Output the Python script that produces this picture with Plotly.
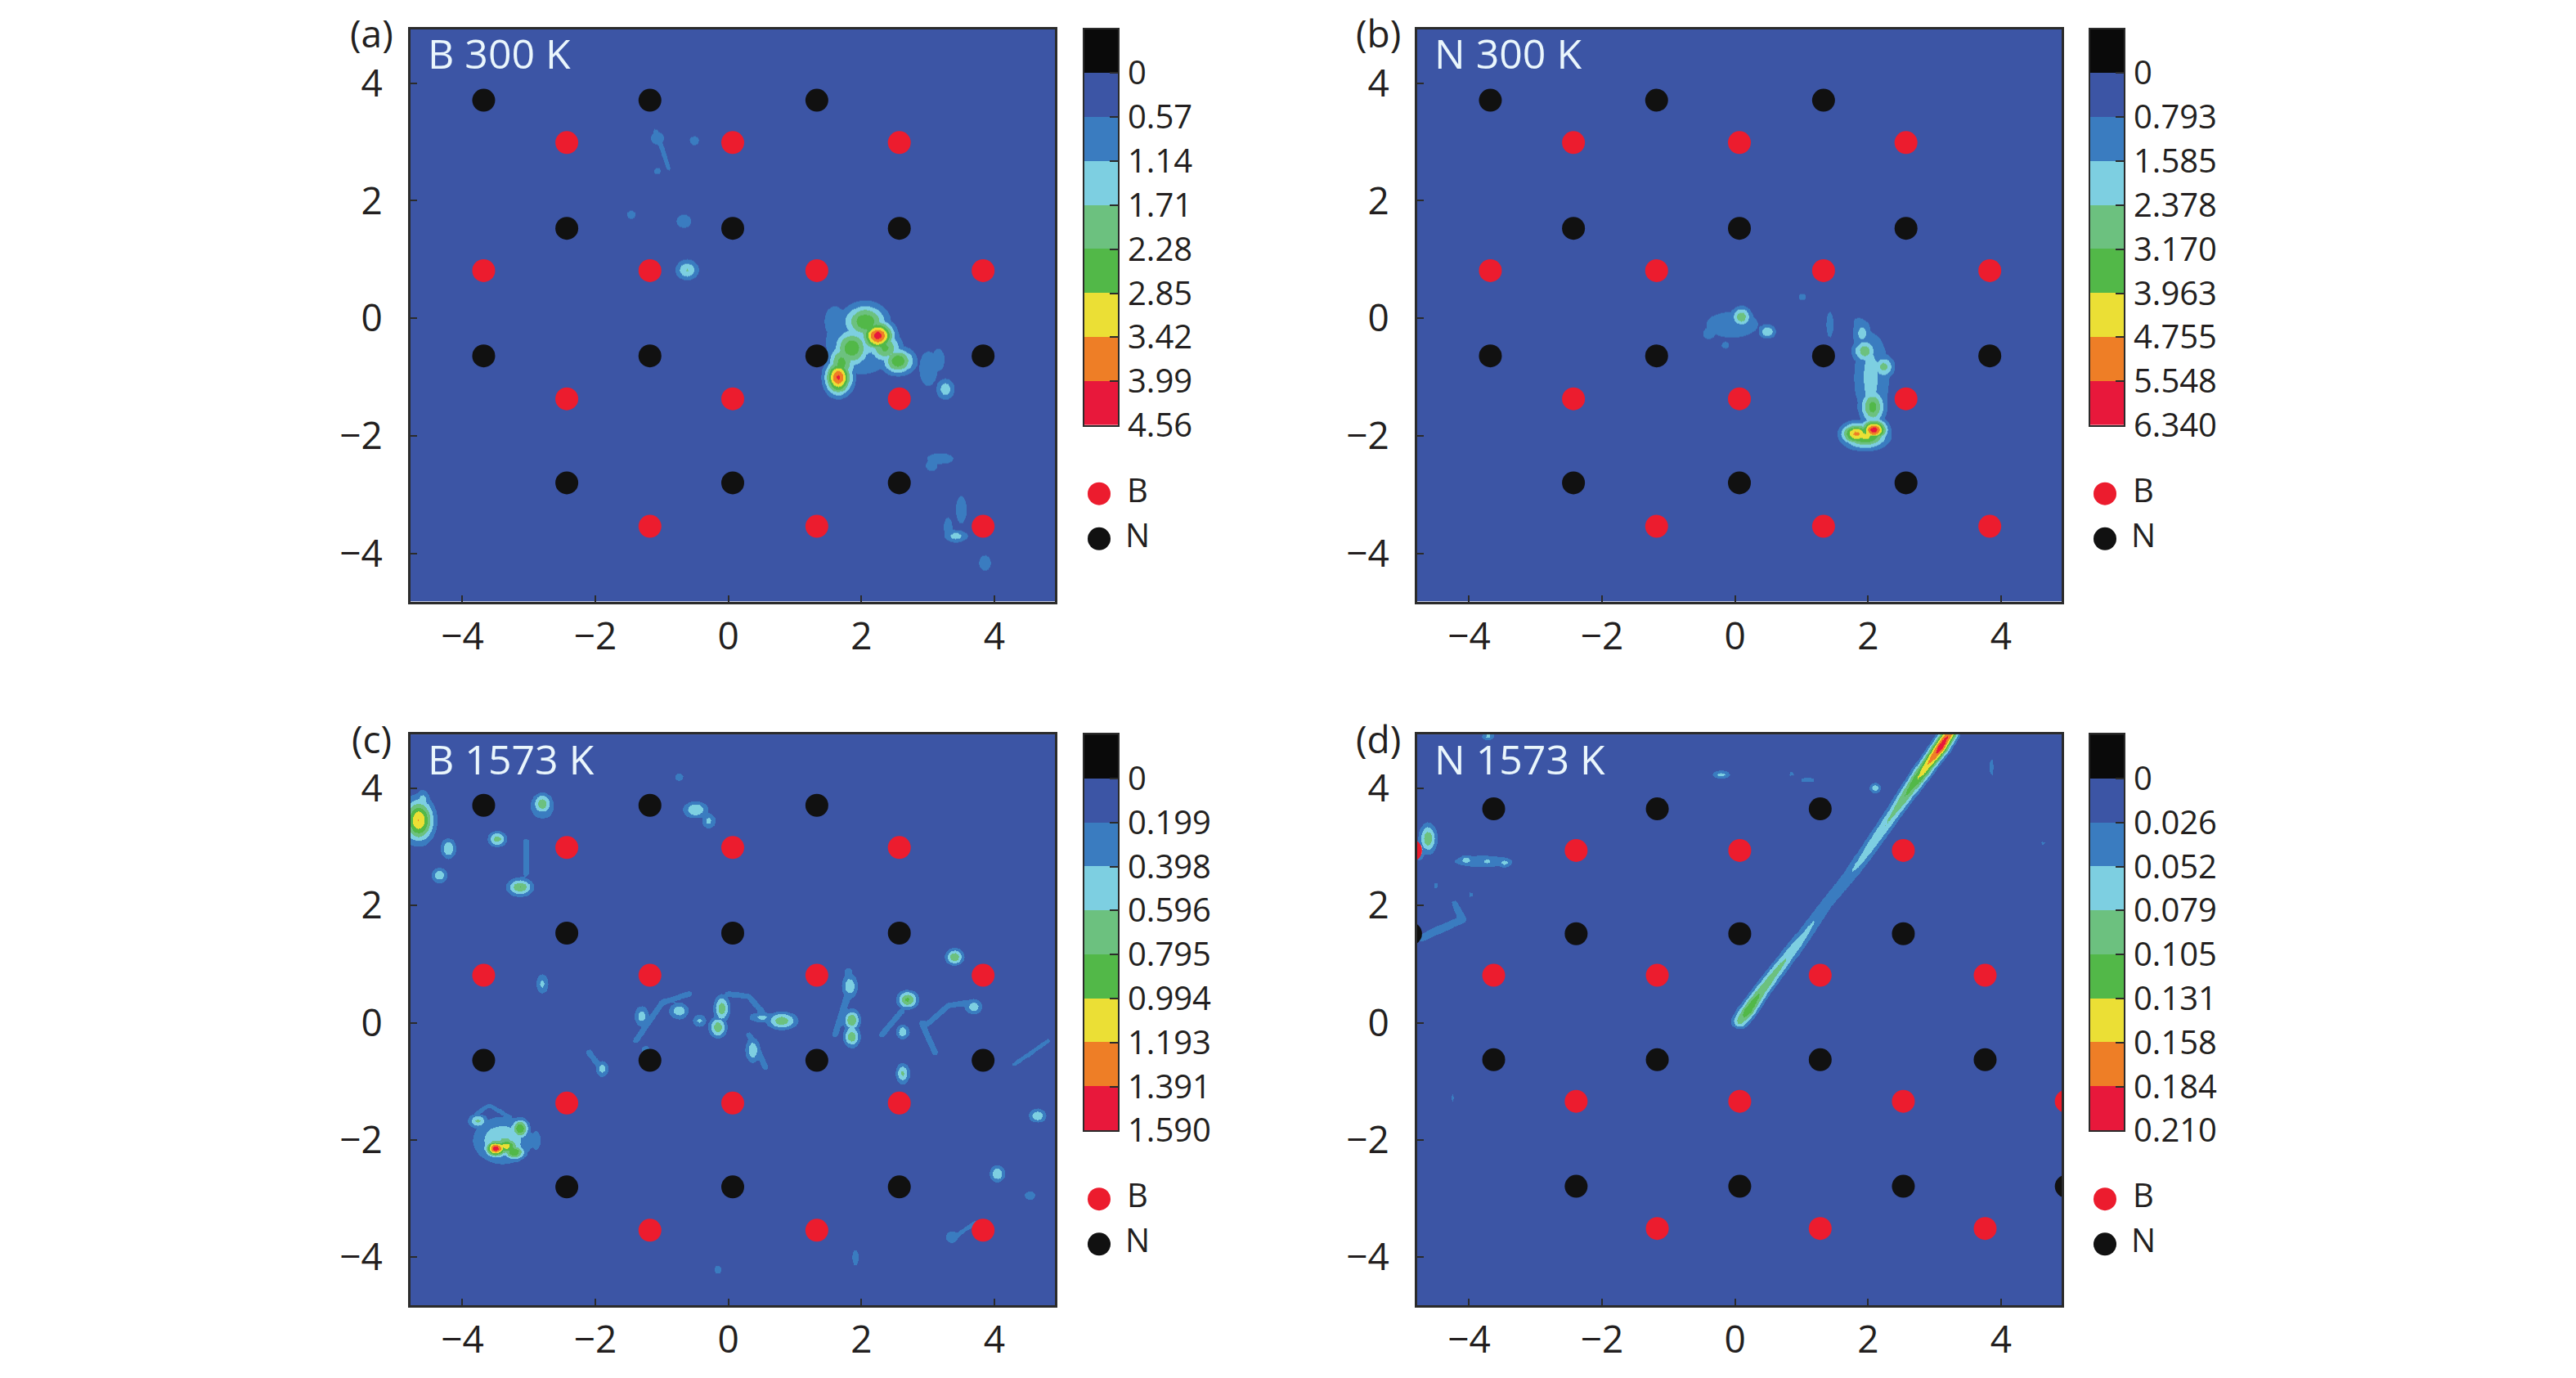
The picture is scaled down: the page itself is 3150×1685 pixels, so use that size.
import numpy as np
import plotly.graph_objects as go

W, H = 3150, 1685
FONT = "Open Sans"
TXT = "#231f20"

# ---------------- data ----------------
panel_tags = ["(a)", "(b)", "(c)", "(d)"]
panel_titles = ["B 300 K", "N 300 K", "B 1573 K", "N 1573 K"]

levels_a = ["0", "0.57", "1.14", "1.71", "2.28", "2.85", "3.42", "3.99", "4.56"]
levels_b = ["0", "0.793", "1.585", "2.378", "3.170", "3.963", "4.755", "5.548", "6.340"]
levels_c = ["0", "0.199", "0.398", "0.596", "0.795", "0.994", "1.193", "1.391", "1.590"]
levels_d = ["0", "0.026", "0.052", "0.079", "0.105", "0.131", "0.158", "0.184", "0.210"]

axis_ticks = [-4, -2, 0, 2, 4]
x_range = [-4.78, 4.91]
y_range = [-4.82, 4.92]

# atom sites, panels (a)-(c)
N_x_abc = [-3.68, -1.18, 1.33, -2.43, 0.065, 2.57, -3.68, -1.18, 1.33, 3.83, -2.43, 0.065, 2.57]
N_y_abc = [3.71, 3.71, 3.71, 1.53, 1.53, 1.53, -0.64, -0.64, -0.64, -0.64, -2.80, -2.80, -2.80]
B_x_abc = [-2.43, 0.065, 2.57, -3.68, -1.18, 1.33, 3.83, -2.43, 0.065, 2.57, -1.18, 1.33, 3.83]
B_y_abc = [2.99, 2.99, 2.99, 0.81, 0.81, 0.81, 0.81, -1.37, -1.37, -1.37, -3.54, -3.54, -3.54]
# atom sites, panel (d)
N_x_d = [-3.63, -1.17, 1.28, -4.88, -2.39, 0.07, 2.53, -3.63, -1.17, 1.28, 3.76, -2.39, 0.07, 2.53, 4.98]
N_y_d = [3.65, 3.65, 3.65, 1.52, 1.52, 1.52, 1.52, -0.63, -0.63, -0.63, -0.63, -2.79, -2.79, -2.79, -2.79]
B_x_d = [-4.88, -2.39, 0.07, 2.53, -3.63, -1.17, 1.28, 3.76, -2.39, 0.07, 2.53, 4.98, -1.17, 1.28, 3.76]
B_y_d = [2.94, 2.94, 2.94, 2.94, 0.81, 0.81, 0.81, 0.81, -1.34, -1.34, -1.34, -1.34, -3.51, -3.51, -3.51]

# density hot spots: (x, y, peak value, sigma_x, sigma_y)
spots_a = [
    (2.24, -0.29, 4.3, 0.16, 0.16), (1.65, -1.00, 4.1, 0.13, 0.19),
    (2.05, -0.05, 2.75, 0.22, 0.20), (1.85, -0.50, 2.7, 0.18, 0.22),
    (2.55, -0.72, 2.75, 0.16, 0.15), (2.35, -0.50, 2.4, 0.17, 0.17),
    (1.70, -0.75, 2.5, 0.14, 0.22), (2.00, -0.40, 1.3, 0.42, 0.42),
    (1.60, -0.05, 1.0, 0.15, 0.25),
    (3.00, -0.85, 1.0, 0.13, 0.28), (3.26, -1.20, 1.5, 0.10, 0.13),
    (3.15, -0.70, 0.9, 0.10, 0.20), (-0.63, 0.83, 1.75, 0.12, 0.12),
    (-1.07, 3.07, 0.95, 0.10, 0.10), (-0.52, 3.03, 0.85, 0.08, 0.08),
    (-1.07, 2.51, 0.75, 0.07, 0.07), (-1.47, 1.77, 0.85, 0.07, 0.08),
    (-0.68, 1.66, 0.95, 0.11, 0.11), (3.18, -2.38, 0.95, 0.20, 0.09),
    (3.05, -2.50, 0.85, 0.10, 0.10), (3.50, -3.25, 0.85, 0.09, 0.26),
    (3.42, -3.70, 1.4, 0.13, 0.08), (3.85, -4.16, 0.95, 0.09, 0.13),
    (3.30, -3.55, 0.8, 0.08, 0.20),
]
spots_b = [
    (2.08, -1.89, 6.1, 0.13, 0.11), (1.82, -1.96, 5.0, 0.15, 0.12),
    (1.95, -2.00, 4.2, 0.22, 0.14), (2.06, -1.50, 3.5, 0.13, 0.20),
    (1.94, -0.55, 2.9, 0.12, 0.14), (2.23, -0.82, 2.7, 0.11, 0.13),
    (2.03, -1.00, 2.1, 0.14, 0.55), (1.90, -0.25, 1.9, 0.10, 0.18),
    (2.05, -1.00, 1.3, 0.26, 0.75), (0.09, 0.03, 2.9, 0.10, 0.12),
    (0.48, -0.22, 2.4, 0.09, 0.08), (-0.05, -0.10, 1.15, 0.45, 0.25),
    (-0.40, -0.25, 1.0, 0.13, 0.15), (-0.15, -0.45, 0.95, 0.10, 0.10),
    (1.00, 0.37, 1.0, 0.08, 0.09), (1.42, -0.10, 1.0, 0.08, 0.32),
]
spots_c = [
    (-4.66, 3.46, 1.2, 0.15, 0.24), (-4.60, 3.80, 0.5, 0.08, 0.13),
    (-2.80, 3.74, 0.75, 0.10, 0.12), (-2.80, 3.70, 0.4, 0.15, 0.18),
    (-3.48, 3.14, 0.7, 0.09, 0.09), (-4.22, 2.98, 0.6, 0.08, 0.12),
    (-4.35, 2.52, 0.55, 0.08, 0.09), (-3.14, 2.32, 0.8, 0.13, 0.10),
    (-0.50, 3.64, 0.6, 0.13, 0.10), (-0.30, 3.45, 0.45, 0.08, 0.10),
    (-0.75, 4.20, 0.3, 0.07, 0.07), (-2.80, 0.67, 0.45, 0.07, 0.13),
    (-1.31, 0.12, 0.5, 0.08, 0.13), (-0.75, 0.21, 0.55, 0.10, 0.10),
    (-0.10, 0.25, 0.75, 0.08, 0.15), (-0.16, -0.07, 0.75, 0.09, 0.12),
    (-0.44, 0.04, 0.45, 0.08, 0.08), (0.80, 0.04, 0.75, 0.15, 0.10),
    (0.50, 0.10, 0.45, 0.15, 0.07), (0.36, -0.46, 0.55, 0.08, 0.15),
    (1.82, 0.63, 0.55, 0.08, 0.15), (1.85, 0.05, 0.8, 0.08, 0.12),
    (1.85, -0.23, 0.75, 0.08, 0.12), (2.69, 0.40, 0.85, 0.10, 0.10),
    (2.62, -0.15, 0.55, 0.07, 0.09), (2.62, -0.86, 0.65, 0.07, 0.12),
    (3.68, 0.28, 0.55, 0.09, 0.09), (3.40, 1.13, 0.8, 0.09, 0.09),
    (-1.90, -0.78, 0.5, 0.07, 0.10), (-1.25, -0.45, 0.3, 0.07, 0.07),
    (4.64, -1.58, 0.6, 0.09, 0.08), (-3.50, -2.14, 1.55, 0.10, 0.09),
    (-3.35, -2.10, 1.1, 0.13, 0.10), (-3.23, -2.20, 1.0, 0.11, 0.09),
    (-3.14, -1.80, 1.0, 0.09, 0.11), (-3.40, -2.00, 0.6, 0.30, 0.27),
    (-3.77, -1.67, 0.65, 0.10, 0.08), (-2.90, -2.00, 0.35, 0.07, 0.15),
    (4.04, -2.57, 0.6, 0.08, 0.10), (4.53, -2.94, 0.35, 0.07, 0.07),
    (3.36, -3.65, 0.4, 0.08, 0.08), (-0.16, -4.20, 0.3, 0.06, 0.08),
    (1.90, -4.00, 0.28, 0.06, 0.16),
]
spots_d = [
    (-4.62, 3.15, 0.10, 0.09, 0.17), (-4.75, 2.95, 0.07, 0.06, 0.12),
    (-4.05, 2.78, 0.07, 0.08, 0.06), (-3.73, 2.76, 0.065, 0.08, 0.06),
    (-3.47, 2.74, 0.065, 0.07, 0.06), (-3.80, 2.76, 0.045, 0.42, 0.09),
    (-0.21, 4.24, 0.065, 0.10, 0.05), (2.10, 4.01, 0.075, 0.06, 0.06),
    (1.08, 4.15, 0.035, 0.14, 0.05), (0.85, 4.25, 0.03, 0.07, 0.07),
    (-3.72, 4.90, 0.06, 0.07, 0.06), (3.85, 4.37, 0.03, 0.06, 0.28),
    (4.62, 3.07, 0.03, 0.06, 0.06), (-4.26, -1.28, 0.03, 0.05, 0.12),
    (-4.50, 2.35, 0.03, 0.06, 0.10), (-3.98, 2.19, 0.03, 0.05, 0.10),
]
# streak-like features: vertices (x, y, value)
streaks_a = [
    ([-1.10, -1.00, -0.90], [3.20, 2.90, 2.55], [0.7, 0.75, 0.7]),
]
streaks_b = [
    ([1.85, 1.95, 2.05, 2.10], [-0.05, -0.60, -1.20, -1.70], [1.2, 1.3, 1.3, 1.4]),
]
streaks_c = [
    ([-1.40, -1.00, -0.60], [-0.30, 0.35, 0.50], [0.3, 0.3, 0.3]),
    ([0.00, 0.30, 0.50], [0.50, 0.45, 0.20], [0.3, 0.3, 0.3]),
    ([1.60, 1.80, 1.80], [-0.20, 0.50, 0.90], [0.3, 0.35, 0.3]),
    ([2.30, 2.60], [-0.20, 0.20], [0.3, 0.3]),
    ([3.00, 3.30, 3.60], [0.00, 0.30, 0.35], [0.3, 0.3, 0.3]),
    ([3.10, 2.90], [-0.50, 0.00], [0.3, 0.3]),
    ([4.30, 4.80], [-0.70, -0.30], [0.25, 0.25]),
    ([-2.10, -1.90], [-0.50, -0.80], [0.3, 0.3]),
    ([3.35, 3.70], [-3.70, -3.40], [0.25, 0.25]),
    ([-3.05, -3.05], [2.55, 3.10], [0.3, 0.3]),
    ([0.30, 0.45, 0.55], [-0.20, -0.50, -0.75], [0.3, 0.3, 0.3]),
    ([-3.80, -3.60, -3.30], [-1.55, -1.40, -1.60], [0.25, 0.25, 0.25]),
]
streak_d_x = [0.07, 0.18, 0.41, 0.69, 1.03, 1.37, 1.71, 2.05, 2.39, 2.67, 2.90, 3.09, 3.22]
streak_d_y = [0.03, 0.21, 0.58, 0.99, 1.50, 2.04, 2.50, 3.05, 3.60, 4.06, 4.43, 4.72, 4.95]
streak_d_v = [0.09, 0.13, 0.10, 0.085, 0.06, 0.045, 0.05, 0.07, 0.085, 0.12, 0.16, 0.205, 0.18]
streaks_d = [
    (streak_d_x, streak_d_y, streak_d_v),
    ([-4.73, -4.11, -4.23], [1.45, 1.77, 2.05], [0.035, 0.035, 0.03]),
]
streak_widths = [0.05, 0.07, 0.05, 0.085]

# ---------------- colours ----------------
band_colors = ["#3c55a5", "#3a7cc0", "#7dcfe1", "#6cc17f", "#52b848",
               "#ebdf35", "#ee7e26", "#e8183b"]
cbar_colors = ["#0a0a0a"] + band_colors
B_color = "#ec1c2e"
N_color = "#111111"

# ---------------- geometry (pixels) ----------------
main_box = [(494, 28, 1282, 739), (1725, 28, 2513, 739),
            (494, 904, 1282, 1613), (1725, 904, 2513, 1613)]
cbar_box = [(1318, 28, 1359, 520), (2548, 28, 2589, 520),
            (1318, 904, 1359, 1396), (2548, 904, 2589, 1396)]
leg_box = [(1300, 577, 1500, 689), (2530, 577, 2730, 689),
           (1300, 1453, 1500, 1565), (2530, 1453, 2730, 1565)]


def dx(b):
    return [b[0] / W, b[2] / W]


def dy(b):
    return [1 - b[3] / H, 1 - b[1] / H]


gx = np.linspace(x_range[0], x_range[1], 260)
gy = np.linspace(y_range[0], y_range[1], 260)
GX, GY = np.meshgrid(gx, gy)


def field(spots, streaks, width):
    Z = np.zeros_like(GX)
    for (x0, y0, a, sx, sy) in spots:
        Z = np.maximum(Z, a * np.exp(-((GX - x0) ** 2 / (2 * sx ** 2) + (GY - y0) ** 2 / (2 * sy ** 2))))
    for (xs, ys, vs) in streaks:
        for i in range(len(xs) - 1):
            x0, y0, x1, y1 = xs[i], ys[i], xs[i + 1], ys[i + 1]
            vx, vy = x1 - x0, y1 - y0
            L2 = vx * vx + vy * vy
            t = np.clip(((GX - x0) * vx + (GY - y0) * vy) / L2, 0, 1)
            d2 = (GX - (x0 + t * vx)) ** 2 + (GY - (y0 + t * vy)) ** 2
            amp = vs[i] + t * (vs[i + 1] - vs[i])
            Z = np.maximum(Z, amp * np.exp(-d2 / (2 * width ** 2)))
    return Z


fields = [
    field(spots_a, streaks_a, streak_widths[0]),
    field(spots_b, streaks_b, streak_widths[1]),
    field(spots_c, streaks_c, streak_widths[2]),
    field(spots_d, streaks_d, streak_widths[3]),
]
all_levels = [levels_a, levels_b, levels_c, levels_d]
atoms = [(B_x_abc, B_y_abc, N_x_abc, N_y_abc)] * 3 + [(B_x_d, B_y_d, N_x_d, N_y_d)]


def discrete_scale(cols):
    n = len(cols)
    s = []
    for i, c in enumerate(cols):
        s.append([i / n, c])
        s.append([(i + 1) / n, c])
    return s


legend_labels = ["B", "N"]
legend_colors = [B_color, N_color]

fig = go.Figure()
layout = dict(width=W, height=H, margin=dict(l=0, r=0, t=0, b=0),
              paper_bgcolor="white", plot_bgcolor="white", showlegend=False,
              font=dict(family=FONT, size=46, color=TXT))
annotations = []

for i in range(4):
    k = i + 1
    xa, ya = f"x{k}", f"y{k}"
    xc, yc = f"x{k+4}", f"y{k+4}"
    xl, yl = f"x{k+8}", f"y{k+8}"
    lv = all_levels[i]
    zmax = float(lv[-1])

    fig.add_trace(go.Heatmap(x=gx, y=gy, z=fields[i], zmin=0, zmax=zmax,
                             colorscale=discrete_scale(band_colors), zsmooth="best",
                             showscale=False, xaxis=xa, yaxis=ya, hoverinfo="skip"))
    bx, by, nx, ny = atoms[i]
    fig.add_trace(go.Scatter(x=bx, y=by, mode="markers", xaxis=xa, yaxis=ya,
                             marker=dict(size=28, color=B_color), hoverinfo="skip"))
    fig.add_trace(go.Scatter(x=nx, y=ny, mode="markers", xaxis=xa, yaxis=ya,
                             marker=dict(size=28, color=N_color), hoverinfo="skip"))

    # colour bar drawn as a small heat map
    nb = len(lv)
    band_idx = list(range(nb))
    fig.add_trace(go.Heatmap(x=[0.5], y=[nb - j - 0.5 for j in band_idx],
                             z=[[j] for j in band_idx], zmin=-0.5, zmax=nb - 0.5,
                             colorscale=discrete_scale(cbar_colors), showscale=False,
                             xaxis=xc, yaxis=yc, hoverinfo="skip"))
    # legend
    fig.add_trace(go.Scatter(x=[0.18, 0.18], y=[1, 0], mode="markers", xaxis=xl, yaxis=yl,
                             marker=dict(size=28, color=legend_colors), hoverinfo="skip"))
    fig.add_trace(go.Scatter(x=[0.415, 0.415], y=[1, 0], mode="text", text=legend_labels,
                             textposition="middle center", xaxis=xl, yaxis=yl,
                             textfont=dict(family=FONT, size=40, color=TXT), hoverinfo="skip"))

    sfx = "" if k == 1 else str(k)
    common = dict(showgrid=False, zeroline=False, showline=True, mirror=True,
                  linecolor="#2b2b2b", linewidth=3, ticks="inside", ticklen=8,
                  tickwidth=2, tickcolor="#2b2b2b",
                  tickfont=dict(family=FONT, size=46, color=TXT))
    layout["xaxis" + sfx] = dict(domain=dx(main_box[i]), range=x_range, anchor=ya,
                                 tickvals=axis_ticks, ticklabelstandoff=0, **common)
    layout["yaxis" + sfx] = dict(domain=dy(main_box[i]), range=y_range, anchor=xa,
                                 tickvals=axis_ticks, ticklabelstandoff=22, **common)
    layout[f"xaxis{k+4}"] = dict(domain=dx(cbar_box[i]), range=[0, 1], anchor=yc,
                                 showgrid=False, zeroline=False, showline=True, mirror=True,
                                 linecolor="#2b2b2b", linewidth=2, ticks="",
                                 showticklabels=False, fixedrange=True)
    layout[f"yaxis{k+4}"] = dict(domain=dy(cbar_box[i]), range=[0, nb], anchor=xc,
                                 side="right", showgrid=False, zeroline=False,
                                 showline=True, mirror=True, linecolor="#2b2b2b",
                                 linewidth=2, ticks="inside", ticklen=10, tickwidth=2,
                                 tickcolor="#2b2b2b",
                                 tickvals=[nb - 1 - j for j in band_idx], ticktext=lv,
                                 ticklabelstandoff=2,
                                 tickfont=dict(family=FONT, size=40, color=TXT))
    layout[f"xaxis{k+8}"] = dict(domain=dx(leg_box[i]), range=[0, 1], anchor=yl,
                                 visible=False, fixedrange=True)
    layout[f"yaxis{k+8}"] = dict(domain=dy(leg_box[i]), range=[-0.5, 1.5], anchor=xl,
                                 visible=False, fixedrange=True)

    mb = main_box[i]
    annotations.append(dict(text=panel_tags[i], xref="paper", yref="paper",
                            x=(mb[0] - 48) / W, y=1 - (mb[1] + 5) / H,
                            xanchor="center", yanchor="middle", showarrow=False,
                            font=dict(family=FONT, size=46, color=TXT)))
    annotations.append(dict(text=panel_titles[i], xref="paper", yref="paper",
                            x=(mb[0] + 19) / W, y=1 - (mb[1] + 30) / H,
                            xanchor="left", yanchor="middle", showarrow=False,
                            font=dict(family=FONT, size=50, color="#eaf6fc")))

layout["annotations"] = annotations
fig.update_layout(**layout)
fig.write_html("out.html")
